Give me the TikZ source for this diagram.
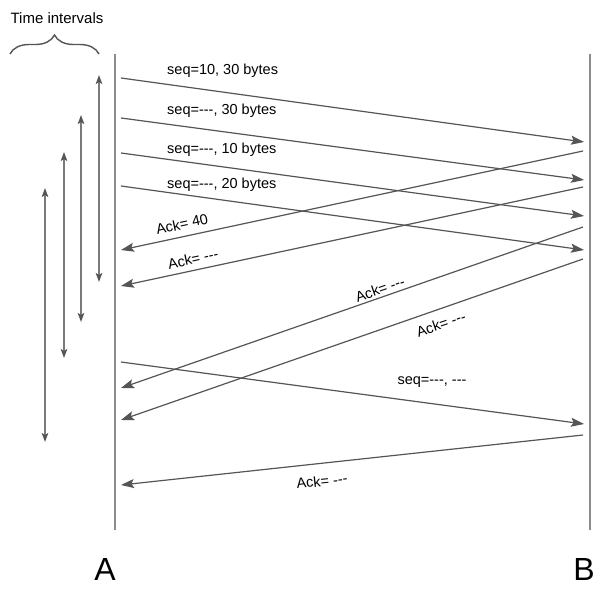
\documentclass[tikz,border=0pt]{standalone}
\usepackage{fontspec}
\setmainfont{Liberation Sans}
\usetikzlibrary{arrows.meta,decorations.pathreplacing}
\definecolor{linegray}{HTML}{555555}
\definecolor{hostgray}{HTML}{8C8C8C}
\definecolor{spangray}{HTML}{7A7A7A}
\newcommand{\dsh}{-\kern0pt-\kern0pt-}
\tikzstyle{msg} = [draw=linegray, line width=1.2pt, -{Stealth[length=13pt,width=9pt,inset=2.5pt]}]
\tikzstyle{span} = [draw=spangray, line width=1.4pt, {Stealth[length=9pt,width=6.5pt,inset=2pt,fill=linegray,color=linegray]}-{Stealth[length=9pt,width=6.5pt,inset=2pt,fill=linegray,color=linegray]}]
\tikzstyle{host} = [draw=hostgray, line width=1.8pt]
\tikzstyle{lbl} = [inner sep=0pt, font=\fontsize{14.5}{16}\selectfont]
\tikzstyle{peer} = [inner sep=0pt, font=\fontsize{32}{36}\selectfont]

\begin{document}
\begin{tikzpicture}[x=1pt,y=-1pt]
  \useasboundingbox (0,0) rectangle (610,599);

  % hosts
  \coordinate (A top) at (115,54);
  \coordinate (A bot) at (115,530);
  \coordinate (B top) at (590,54);
  \coordinate (B bot) at (590,530);
  \draw[host] (A top) -- (A bot);
  \draw[host] (B top) -- (B bot);
  \node[peer] (A) at (105,569) {A};
  \node[peer] (B) at (584,569) {B};

  % segments A -> B
  \coordinate (s1) at (121,78);   \coordinate (r1) at (584,142);
  \coordinate (s2) at (121,118);  \coordinate (r2) at (584,180);
  \coordinate (s3) at (121,153);  \coordinate (r3) at (584,216);
  \coordinate (s4) at (121,186);  \coordinate (r4) at (584,250);
  \coordinate (s5) at (121,362);  \coordinate (r5) at (584,424);
  \draw[msg] (s1) -- (r1);
  \draw[msg] (s2) -- (r2);
  \draw[msg] (s3) -- (r3);
  \draw[msg] (s4) -- (r4);
  \draw[msg] (s5) -- (r5);
  \node[lbl, anchor=west] (seq1) at (167,71) {seq=10, 30 bytes};
  \node[lbl, anchor=west] (seq2) at (167,111) {seq=\dsh, 30 bytes};
  \node[lbl, anchor=west] (seq3) at (167,150) {seq=\dsh, 10 bytes};
  \node[lbl, anchor=west] (seq4) at (167,185) {seq=\dsh, 20 bytes};
  \node[lbl] (seq5) at (432,382) {seq=\dsh, \dsh};

  % acks B -> A
  \coordinate (k1) at (583,151);  \coordinate (a1) at (121,250);
  \coordinate (k2) at (583,187);  \coordinate (a2) at (121,286);
  \coordinate (k3) at (583,227);  \coordinate (a3) at (121,388);
  \coordinate (k4) at (583,259);  \coordinate (a4) at (121,420);
  \coordinate (k5) at (583,435);  \coordinate (a5) at (121,485);
  \draw[msg] (k1) -- (a1);
  \draw[msg] (k2) -- (a2);
  \draw[msg] (k3) -- (a3);
  \draw[msg] (k4) -- (a4);
  \draw[msg] (k5) -- (a5);
  \node[lbl, rotate=12] (ack1) at (182,224) {Ack= 40};
  \node[lbl, rotate=12] (ack2) at (193,259) {Ack= \dsh};
  \node[lbl, rotate=19] (ack3) at (380,289) {Ack= \dsh};
  \node[lbl, rotate=19] (ack4) at (441,324) {Ack= \dsh};
  \node[lbl, rotate=6] (ack5) at (322,481) {Ack= \dsh};

  % time intervals
  \coordinate (t1 top) at (99,75);  \coordinate (t1 bot) at (99,282);
  \coordinate (t2 top) at (81,115); \coordinate (t2 bot) at (81,322);
  \coordinate (t3 top) at (64,152); \coordinate (t3 bot) at (64,358);
  \coordinate (t4 top) at (45,188); \coordinate (t4 bot) at (45,442);
  \draw[span] (t1 top) -- (t1 bot);
  \draw[span] (t2 top) -- (t2 bot);
  \draw[span] (t3 top) -- (t3 bot);
  \draw[span] (t4 top) -- (t4 bot);
  \coordinate (br left) at (10,54);
  \coordinate (br right) at (99,54);
  \draw[draw=linegray, line width=1.4pt, decorate, decoration={brace, amplitude=19pt}] (br left) -- (br right);
  \node[lbl, font=\fontsize{15}{17}\selectfont] (title) at (57,18) {Time intervals};
\end{tikzpicture}
\end{document}
